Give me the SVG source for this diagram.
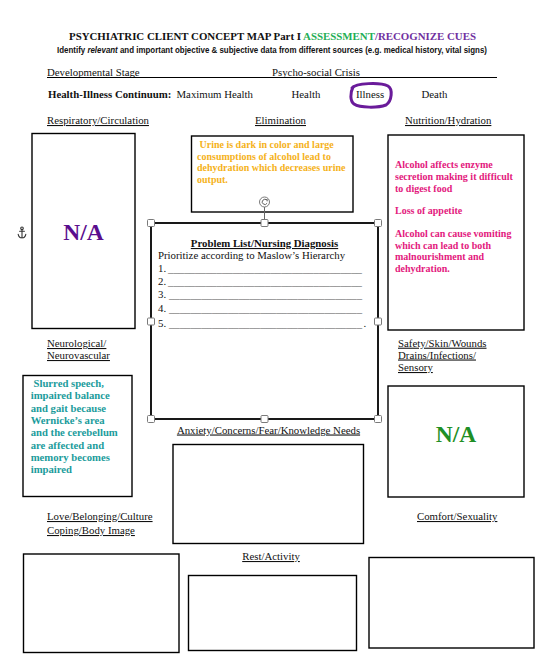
<svg xmlns="http://www.w3.org/2000/svg" width="539" height="658" viewBox="0 0 539 658">
<style>
  .t { font-family: "Liberation Serif", "Times New Roman", serif; font-size: 10.8px; fill: #111; }
  .u { text-decoration: underline; }
  .b { font-weight: bold; }
  .box { fill: #fff; stroke: #000; stroke-width: 1.4; }
  .orange { font-family: "Liberation Serif", serif; font-weight: bold; font-size: 10px; fill: #F5B21A; }
  .pink { font-family: "Liberation Serif", serif; font-weight: bold; font-size: 10px; fill: #E3197D; }
  .teal { font-family: "Liberation Serif", serif; font-weight: bold; font-size: 10.7px; fill: #1C9C9C; }
  .na { font-family: "Liberation Serif", serif; font-weight: bold; font-size: 23.5px; text-anchor: middle; }
  .h { fill: #fff; stroke: #7a7a7a; stroke-width: 1; }
  .ul { font-family: "Liberation Serif", serif; font-size: 10.8px; fill: #555; }
</style>
<rect width="539" height="658" fill="#fff"/>

<g id="header">
  <text class="t b" x="69" y="40" font-size="11" textLength="407" lengthAdjust="spacingAndGlyphs">PSYCHIATRIC CLIENT CONCEPT MAP Part I <tspan fill="#1FAE55">ASSESSMENT</tspan><tspan fill="#7030A0">/RECOGNIZE CUES</tspan></text>
  <text x="57" y="52.5" font-family="Liberation Sans, Arial, sans-serif" font-weight="bold" font-size="8.5" fill="#111" textLength="430" lengthAdjust="spacingAndGlyphs">Identify <tspan font-style="italic">relevant</tspan> and important objective &amp; subjective data from different sources (e.g. medical history, vital signs)</text>
  <text class="t" x="47" y="75.5">Developmental Stage</text>
  <text class="t" x="272" y="75.5">Psycho-social Crisis</text>
  <line x1="47" y1="77.5" x2="497" y2="77.5" stroke="#000" stroke-width="1"/>
</g>

<g id="continuum">
  <text class="t b" x="48" y="97.5">Health-Illness Continuum:</text>
  <text class="t" x="176.5" y="97.5">Maximum Health</text>
  <text class="t" x="291.5" y="97.5">Health</text>
  <text class="t" x="356" y="97.5">Illness</text>
  <text class="t" x="421.5" y="97.5">Death</text>
  <path d="M352 88 C356 83, 380 82, 388 86 C393 89, 392 101, 386 105 C378 108, 360 108, 354 104 C350 101, 350 93, 353 87" fill="none" stroke="#6A1B9A" stroke-width="3" stroke-linecap="round"/>
</g>

<g id="respiratory">
  <text class="t u" x="47" y="124">Respiratory/Circulation</text>
  <rect class="box" x="32" y="133.5" width="103" height="195"/>
  <text class="na" x="83.5" y="240" fill="#5A0E8E">N/A</text>
</g>

<g id="anchor-icon" fill="none" stroke="#333" stroke-width="1.1" stroke-linecap="round">
  <circle cx="22" cy="228.3" r="1.3"/>
  <line x1="22" y1="229.6" x2="22" y2="237.8"/>
  <line x1="19.6" y1="231.3" x2="24.4" y2="231.3"/>
  <path d="M18.2 234.3 Q19 238 22 237.8 Q25 238 25.8 234.3"/>
</g>

<g id="elimination">
  <text class="t u" x="255" y="124">Elimination</text>
  <rect class="box" x="191.5" y="136" width="161.5" height="76"/>
  <text class="orange" x="199.5" y="148">Urine is dark in color and large</text>
  <text class="orange" x="197" y="159.5">consumptions of alcohol lead to</text>
  <text class="orange" x="197" y="171">dehydration which decreases urine</text>
  <text class="orange" x="197" y="182.5">output.</text>
</g>

<g id="nutrition">
  <text class="t u" x="405" y="124">Nutrition/Hydration</text>
  <rect class="box" x="388" y="135" width="136" height="195"/>
  <text class="pink" x="395" y="168.3">Alcohol affects enzyme</text>
  <text class="pink" x="395" y="180">secretion making it difficult</text>
  <text class="pink" x="395" y="191.5">to digest food</text>
  <text class="pink" x="395" y="213.5">Loss of appetite</text>
  <text class="pink" x="395" y="237.3">Alcohol can cause vomiting</text>
  <text class="pink" x="395" y="248.8">which can lead to both</text>
  <text class="pink" x="395" y="260.3">malnourishment and</text>
  <text class="pink" x="395" y="271.8">dehydration.</text>
</g>

<g id="connectors"></g>

<g id="problem-list">
  <rect x="151" y="223" width="227" height="196" fill="#fff" stroke="#000" stroke-width="1.8"/>
  <text class="t b u" x="264.5" y="247" text-anchor="middle">Problem List/Nursing Diagnosis</text>
  <text class="t" x="158" y="258.5">Prioritize according to Maslow’s Hierarchy</text>
  <text class="t" x="158" y="272">1.</text>
  <text class="ul" x="168" y="272" textLength="194" lengthAdjust="spacingAndGlyphs">____________________________________</text>
  <text class="t" x="158" y="284.5">2.</text>
  <text class="ul" x="168" y="284.5" textLength="194" lengthAdjust="spacingAndGlyphs">____________________________________</text>
  <text class="t" x="158" y="298">3.</text>
  <text class="ul" x="169" y="298" textLength="193" lengthAdjust="spacingAndGlyphs">____________________________________</text>
  <text class="t" x="158" y="312">4.</text>
  <text class="ul" x="169" y="312" textLength="193" lengthAdjust="spacingAndGlyphs">____________________________________</text>
  <text class="t" x="158" y="326.5">5.</text>
  <text class="ul" x="169" y="326.5" textLength="193" lengthAdjust="spacingAndGlyphs">____________________________________</text>
  <text class="t" x="363.5" y="326.5">.</text>
</g>

<g id="selection-handles">
  <line x1="264.5" y1="207" x2="264.5" y2="223" stroke="#666" stroke-width="1"/>
  <circle class="h" cx="264.5" cy="202" r="5"/>
  <path d="M266.8 200.2 A2.6 2.6 0 1 0 267.1 203.2" fill="none" stroke="#555" stroke-width="0.9"/>
  <path d="M265.6 199.4 L267.4 199.6 L267.2 201.4" fill="none" stroke="#555" stroke-width="0.8"/>
  <rect class="h" x="147.5" y="219.5" width="7" height="7" rx="1"/>
  <rect class="h" x="261" y="219.5" width="7" height="7" rx="1"/>
  <rect class="h" x="374.5" y="219.5" width="7" height="7" rx="1"/>
  <rect class="h" x="147.5" y="318" width="7" height="7" rx="1"/>
  <rect class="h" x="374.5" y="318" width="7" height="7" rx="1"/>
  <rect class="h" x="147.5" y="415.5" width="7" height="7" rx="1"/>
  <rect class="h" x="261" y="415.5" width="7" height="7" rx="1"/>
  <rect class="h" x="374.5" y="415.5" width="7" height="7" rx="1"/>
</g>

<g id="neurological">
  <text class="t u" x="47" y="347">Neurological/</text>
  <text class="t u" x="47" y="359">Neurovascular</text>
  <rect class="box" x="23" y="375.5" width="109" height="121"/>
  <text class="teal" x="33.5" y="387">Slurred speech,</text>
  <text class="teal" x="30.7" y="399.3">impaired balance</text>
  <text class="teal" x="30.7" y="411.6">and gait because</text>
  <text class="teal" x="30.7" y="423.9">Wernicke’s area</text>
  <text class="teal" x="30.7" y="436.2">and the cerebellum</text>
  <text class="teal" x="30.7" y="448.5">are affected and</text>
  <text class="teal" x="30.7" y="460.8">memory becomes</text>
  <text class="teal" x="30.7" y="473.1">impaired</text>
</g>

<g id="safety">
  <text class="t u" x="398" y="346.7">Safety/Skin/Wounds</text>
  <text class="t u" x="398" y="358.5">Drains/Infections/</text>
  <text class="t u" x="398" y="371">Sensory</text>
  <rect class="box" x="388" y="386" width="136" height="111"/>
  <text class="na" x="456" y="442" fill="#1E8F25">N/A</text>
</g>

<g id="anxiety">
  <text class="t u" x="268.5" y="433.5" text-anchor="middle">Anxiety/Concerns/Fear/Knowledge Needs</text>
  <rect class="box" x="173" y="444.5" width="190.5" height="99"/>
</g>

<g id="love">
  <text class="t u" x="47" y="520">Love/Belonging/Culture</text>
  <text class="t u" x="47" y="534">Coping/Body Image</text>
  <rect class="box" x="23.5" y="554" width="155.5" height="98.5"/>
</g>

<g id="rest">
  <text class="t u" x="271" y="560" text-anchor="middle">Rest/Activity</text>
  <rect class="box" x="188.5" y="575.5" width="168" height="75"/>
</g>

<g id="comfort">
  <text class="t u" x="417" y="520">Comfort/Sexuality</text>
  <rect class="box" x="369" y="557.5" width="165" height="90.5"/>
</g>
</svg>
